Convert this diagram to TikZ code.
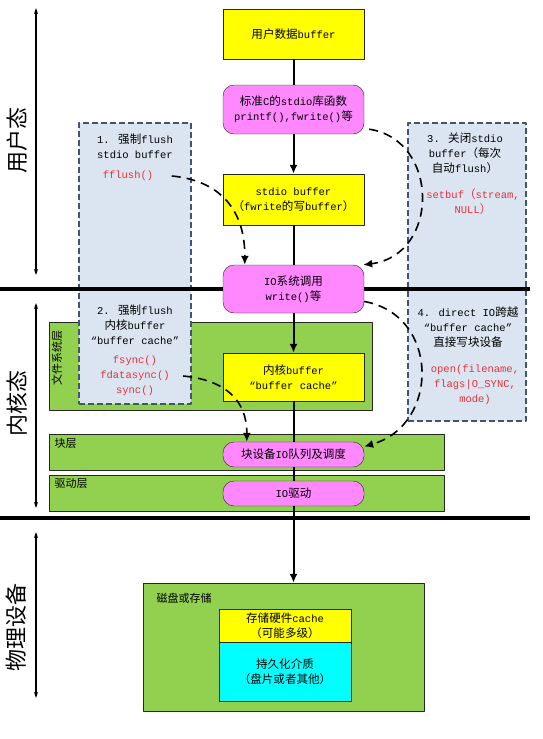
\documentclass[tikz,border=0pt]{standalone}
\usepackage{fontspec}
\setmainfont{Liberation Mono}
\newfontfamily\cjk[Scale=1.1]{Noto Sans CJK SC}
\usetikzlibrary{arrows.meta}
\definecolor{ybox}{HTML}{FFFF00}
\definecolor{pbox}{HTML}{FF88FF}
\definecolor{gbox}{HTML}{92D050}
\definecolor{cbox}{HTML}{00FFFF}
\definecolor{nbox}{HTML}{DBE5F1}
\definecolor{nline}{HTML}{44546A}
\definecolor{fntxt}{HTML}{E0343C}
\begin{document}
\begin{tikzpicture}[x=1pt,y=-1pt,line join=round,font=\fontsize{10.5}{15}\selectfont,>={Latex[length=9pt,width=8pt]},
  buf/.style={draw=black!85,fill=ybox,minimum width=141pt,align=center,inner sep=1pt},
  call/.style={buf,fill=pbox,rounded corners=11pt},
  stage/.style={draw=black!85,fill=gbox,inner sep=0pt},
  note/.style={draw=nline,fill=nbox,dash pattern=on 6pt off 3pt,line width=1.2pt,inner sep=0pt},
  fn/.style={text=fntxt,align=center},
  flow/.style={line width=2pt},
  hint/.style={->,line width=1.6pt,dash pattern=on 9pt off 6pt},
  divider/.style={line width=3.5pt},
  tier/.style={<->,>={Stealth[length=6pt,width=4pt]},line width=1.2pt},
  side/.style={rotate=90,font=\fontsize{20}{20}\selectfont\cjk}]
  \useasboundingbox (0,0) rectangle (542,739);
  \node[stage,minimum width=323pt,minimum height=88pt] (fs) at (210.5,366) {};
  \node[stage,minimum width=395pt,minimum height=36pt] (blk) at (246.5,452) {};
  \node[stage,minimum width=395pt,minimum height=36pt] (drv) at (246.5,493) {};
  \node[stage,minimum width=281pt,minimum height=128pt] (disk) at (283.5,647) {};
  \node[rotate=90,font=\fontsize{10}{10}\selectfont\cjk] (fslbl) at (57,358) {文件系统层};
  \node[anchor=west,font=\cjk] (blklbl) at (51,443) {块层};
  \node[anchor=west,font=\cjk] (drvlbl) at (51,483) {驱动层};
  \node[anchor=west,font=\cjk] (disklbl) at (153,598) {磁盘或存储};
  \node[note,minimum width=112pt,minimum height=281pt] (n1) at (135,263.5) {};
  \node[note,minimum width=118pt,minimum height=298pt] (n3) at (467,272) {};
  \draw[divider] (0,289) -- (530,289);
  \draw[divider] (0,518) -- (530,518);
  \coordinate (u1) at (36,8); \coordinate (u2) at (36,275);
  \coordinate (k1) at (36,303); \coordinate (k2) at (36,508);
  \coordinate (p1) at (36,532); \coordinate (p2) at (36,698);
  \draw[tier] (u1) -- (u2);
  \draw[tier] (k1) -- (k2);
  \draw[tier] (p1) -- (p2);
  \node[side] (userlbl) at (17,140) {用户态};
  \node[side] (kernlbl) at (17,403) {内核态};
  \node[side] (devlbl) at (16,627) {物理设备};
  \node[buf,minimum height=50pt] (ubuf) at (293.5,34) {{\cjk 用户数据}buffer};
  \node[call,minimum height=49pt] (stdlib) at (293.5,109.5) {{\cjk 标准}C{\cjk 的}stdio{\cjk 库函数}\\printf(),fwrite(){\cjk 等}};
  \node[buf,minimum height=51pt] (sbuf) at (293.5,199.5) {stdio buffer\\{\cjk （}fwrite{\cjk 的写}buffer{\cjk ）}};
  \node[call,minimum height=48pt] (sysc) at (293.5,289) {IO{\cjk 系统调用}\\write(){\cjk 等}};
  \node[buf,minimum height=48pt] (kbuf) at (293.5,377) {{\cjk 内核}buffer\\“buffer cache”};
  \node[call,minimum height=25pt] (queue) at (293.5,454.5) {{\cjk 块设备}IO{\cjk 队列及调度}};
  \node[call,minimum height=25pt] (iodrv) at (293.5,493.5) {IO{\cjk 驱动}};
  \node[buf,minimum width=132pt,minimum height=33pt] (hwc) at (285,625.5) {{\cjk 存储硬件}cache\\{\cjk （可能多级）}};
  \node[buf,fill=cbox,minimum width=132pt,minimum height=59pt] (media) at (285,671.5) {{\cjk 持久化介质}\\{\cjk （盘片或者其他）}};
  \node[align=center] (t1) at (135,146) {1. {\cjk 强制}flush\\stdio buffer};
  \node[fn] (fflushtxt) at (128,176) {fflush()};
  \node[align=center] (t2) at (135,324.5) {2. {\cjk 强制}flush\\{\cjk 内核}buffer\\“buffer cache”};
  \node[fn] (synctxt) at (135,376) {fsync()\\fdatasync()\\sync()};
  \node[align=center] (t3) at (465,153) {3. {\cjk 关闭}stdio\\buffer{\cjk （每次}\\{\cjk 自动}flush{\cjk ）}};
  \node[fn] (setbuftxt) at (473,201.5) {setbuf{\cjk （}stream,\\NULL{\cjk ）}};
  \node[align=center] (t4) at (468,327) {4. direct IO{\cjk 跨越}\\“buffer cache”\\{\cjk 直接写块设备}};
  \node[fn] (opentxt) at (475,385) {open(filename,\\flags|O\_SYNC,\\mode)};
  \draw[flow] (ubuf) -- (stdlib);
  \draw[flow,->] (stdlib) -- (sbuf);
  \draw[flow] (sbuf) -- (sysc);
  \draw[flow,->] (sysc) -- (kbuf);
  \draw[flow] (kbuf) -- (queue);
  \draw[flow] (queue) -- (iodrv);
  \draw[flow,->] (iodrv.south) -- (iodrv.south |- disk.north);
  \draw[hint] ([xshift=15pt]fflushtxt.east) .. controls (215,180) and (245,205) .. ([xshift=22pt]sysc.north west);
  \draw[hint] ([xshift=5pt,yshift=5pt]stdlib.south east) .. controls (440,140) and (440,255) .. ([xshift=-1pt]sysc.north east);
  \draw[hint] ([xshift=10pt]synctxt.east) .. controls (225,380) and (247,400) .. ([xshift=24pt]queue.north west);
  \draw[hint] (sysc.-10) .. controls (440,315) and (440,425) .. ([yshift=8pt]queue.east);
\end{tikzpicture}
\end{document}
